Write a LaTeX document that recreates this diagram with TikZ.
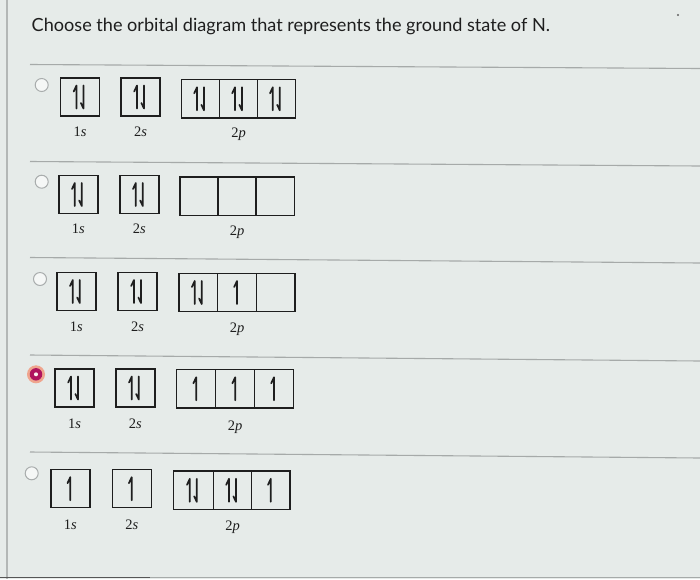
\documentclass[tikz,border=0pt]{standalone}
\usepackage{fontspec}
\setmainfont{Liberation Serif}
\newfontfamily\titlefont{Lato}
\definecolor{bgc}{HTML}{E6EBE9}
\definecolor{sepc}{HTML}{A6AAA9}
\definecolor{inkc}{HTML}{1E1E1E}
\definecolor{radioc}{HTML}{A9ADAD}
\definecolor{selc}{HTML}{B0145E}
\definecolor{haloc}{HTML}{EFA58E}
\tikzset{
  obox/.style={draw=inkc, line width=1.4pt, inner sep=0pt, minimum width=39pt, minimum height=38pt},
  pbox/.style={draw=inkc, line width=1.4pt, inner sep=0pt, minimum height=38.5pt},
  olabel/.style={font=\fontsize{14.5}{14.5}\selectfont, text=inkc, anchor=base, inner sep=0pt},
  sepline/.style={draw=sepc, line width=1.1pt},
  radio/.style={circle, draw=radioc, fill=white!60!bgc, line width=1pt, minimum size=13pt, inner sep=0pt},
  arr/.style={draw=inkc, line width=1.7pt, line cap=round, line join=round},
  pics/pairup/.style={code={
    \draw[arr] (-3.5,11.5) -- (-3.5,-11.5) -- (-6.3,-5.5);
    \draw[arr] (3.5,-11.5) -- (3.5,11.5) -- (0.9,6);
  }},
  pics/oneup/.style={code={
    \draw[arr] (0,11.5) -- (0,-11.5) -- (-2.8,-5.5);
  }}
}
\begin{document}
\begin{tikzpicture}[x=1pt,y=-1pt]
\useasboundingbox (0,0) rectangle (700,579);
\fill[bgc] (0,0) rectangle (700,579);
\draw[draw=sepc!80!bgc, line width=1.2pt] (7,0) -- (7,579);

% title
\node[anchor=base west, inner sep=0pt, text=inkc, font=\titlefont\fontsize{18.1}{18}\selectfont] (title) at (31.5,31.8) {Choose the orbital diagram that represents the ground state of N.};
\fill[inkc!70] (678,15) circle (1.1);

% separators
\coordinate (s1a) at (30,64.5); \coordinate (s1b) at (700,68.5);
\coordinate (s2a) at (30,161.5); \coordinate (s2b) at (700,166);
\coordinate (s3a) at (30,257.5); \coordinate (s3b) at (700,263);
\coordinate (s4a) at (30,355); \coordinate (s4b) at (700,361);
\coordinate (s5a) at (30,452); \coordinate (s5b) at (700,458);
\draw[sepline] (s1a) -- (s1b);
\draw[sepline] (s2a) -- (s2b);
\draw[sepline] (s3a) -- (s3b);
\draw[sepline] (s4a) -- (s4b);
\draw[sepline] (s5a) -- (s5b);
\coordinate (bl) at (0,577.5); \coordinate (bm) at (150,577.5); \coordinate (br) at (700,577.5);
\draw[draw=inkc!75, line width=1.4pt] (bl) -- (bm);
\draw[sepline] (bm) -- (br);

% ---------- row 1 ----------
\node[radio] (ra) at (41.7,85) {};
\node[obox] (a1s) at (80,97) {};
\node[obox] (a2s) at (140.5,97) {};
\node[pbox, minimum width=38pt] (a2px) at (200.5,98.8) {};
\node[pbox, minimum width=38pt] (a2py) at (238.5,98.8) {};
\node[pbox, minimum width=38pt] (a2pz) at (276.3,98.8) {};
\pic at (a1s.center) {pairup};
\pic at (a2s.center) {pairup};
\pic at (a2px.center) {pairup};
\pic at (a2py.center) {pairup};
\pic at (a2pz.center) {pairup};
\node[olabel] (la1) at (80,136) {1\textit{s}};
\node[olabel] (la2) at (140.5,136) {2\textit{s}};
\node[olabel] (la3) at (238.5,137.5) {2\textit{p}};

% ---------- row 2 ----------
\node[radio] (rb) at (41.7,181.7) {};
\node[obox] (b1s) at (78.3,194.5) {};
\node[obox] (b2s) at (139.3,194.5) {};
\node[pbox, minimum width=38.3pt] (b2px) at (199.2,196.2) {};
\node[pbox, minimum width=38.3pt] (b2py) at (237.2,196.2) {};
\node[pbox, minimum width=38.3pt] (b2pz) at (275.2,196.2) {};
\pic at (b1s.center) {pairup};
\pic at (b2s.center) {pairup};
\node[olabel] (lb1) at (78.3,233.5) {1\textit{s}};
\node[olabel] (lb2) at (139.3,233.5) {2\textit{s}};
\node[olabel] (lb3) at (237.2,235) {2\textit{p}};

% ---------- row 3 ----------
\node[radio] (rc) at (40,279) {};
\node[obox] (c1s) at (76.3,291.5) {};
\node[obox] (c2s) at (137.5,291.5) {};
\node[pbox, minimum width=38.3pt] (c2px) at (198.2,292.5) {};
\node[pbox, minimum width=39.4pt] (c2py) at (237,292.5) {};
\node[pbox, minimum width=38.3pt] (c2pz) at (275.8,292.5) {};
\pic at (c1s.center) {pairup};
\pic at (c2s.center) {pairup};
\pic at (c2px.center) {pairup};
\pic at (c2py.center) {oneup};
\node[olabel] (lc1) at (76.3,331) {1\textit{s}};
\node[olabel] (lc2) at (137.5,331) {2\textit{s}};
\node[olabel] (lc3) at (237,332.5) {2\textit{p}};

% ---------- row 4 (selected) ----------
\node[circle, fill=haloc, minimum size=18pt, inner sep=0pt] (rdh) at (36,374.3) {};
\node[circle, fill=selc, minimum size=12.5pt, inner sep=0pt] (rd) at (36,374.3) {};
\node[circle, fill=white!85!haloc, minimum size=4pt, inner sep=0pt] (rdc) at (36,374.3) {};
\node[obox] (d1s) at (74.5,388) {};
\node[obox] (d2s) at (135.3,388) {};
\node[pbox, minimum width=39pt] (d2px) at (196.2,388.8) {};
\node[pbox, minimum width=39pt] (d2py) at (235.2,388.8) {};
\node[pbox, minimum width=38.6pt] (d2pz) at (274,388.8) {};
\pic at (d1s.center) {pairup};
\pic at (d2s.center) {pairup};
\pic at (d2px.center) {oneup};
\pic at (d2py.center) {oneup};
\pic at (d2pz.center) {oneup};
\node[olabel] (ld1) at (74.5,428.5) {1\textit{s}};
\node[olabel] (ld2) at (135.3,428.5) {2\textit{s}};
\node[olabel] (ld3) at (235.2,430) {2\textit{p}};

% ---------- row 5 ----------
\node[radio] (re) at (31.7,473.3) {};
\node[obox] (e1s) at (70.3,488.7) {};
\node[obox] (e2s) at (131.7,488.7) {};
\node[pbox, minimum width=40pt] (e2px) at (193.3,490.3) {};
\node[pbox, minimum width=38.4pt] (e2py) at (232.5,490.3) {};
\node[pbox, minimum width=38.3pt] (e2pz) at (270.8,490.3) {};
\pic at (e1s.center) {oneup};
\pic at (e2s.center) {oneup};
\pic at (e2px.center) {pairup};
\pic at (e2py.center) {pairup};
\pic at (e2pz.center) {oneup};
\node[olabel] (le1) at (70.3,529) {1\textit{s}};
\node[olabel] (le2) at (131.7,529) {2\textit{s}};
\node[olabel] (le3) at (232.5,530.5) {2\textit{p}};
\end{tikzpicture}
\end{document}
